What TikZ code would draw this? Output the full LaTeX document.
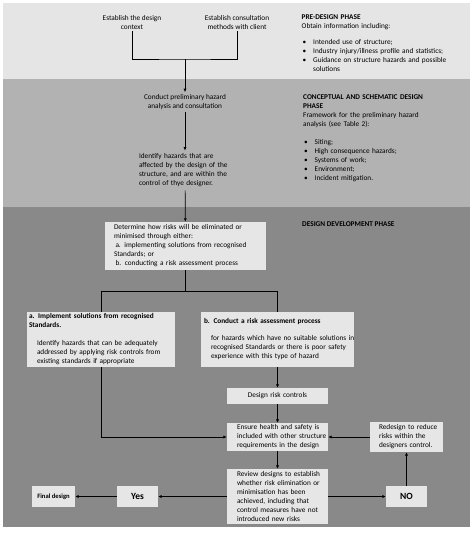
\documentclass[tikz,border=0pt]{standalone}
\usepackage{fontspec}
\setmainfont{Carlito}
\usetikzlibrary{arrows.meta}
\definecolor{bandA}{HTML}{E5E5E5}
\definecolor{bandB}{HTML}{B2B2B2}
\definecolor{bandC}{HTML}{898989}
\definecolor{boxc}{HTML}{E6E6E6}
\newcommand\fs{\fontsize{7.3}{9}\selectfont}
\newcommand\myl[2]{\mbox{\hspace*{#1}#2}}
\newcommand\bul[1]{\makebox[11.5pt][l]{\hspace*{1pt}•}#1}
\begin{document}
\begin{tikzpicture}[x=1pt,y=-1pt,
  txt/.style={font=\fs, inner sep=0pt},
  bx/.style={txt, fill=boxc, align=left},
  arr/.style={line width=0.7pt, -{Latex[length=3.5pt,width=3.2pt]}},
  ln/.style={line width=0.7pt},
]
\useasboundingbox (0,0) rectangle (474,533);
\fill[bandA] (3,3) rectangle (470,79);
\fill[bandB] (3,79) rectangle (470,207);
\fill[bandC] (3,207) rectangle (470,527);

% pre-design band
\node[txt, align=center, inner sep=2pt] (ctx) at (132,22) {Establish the design\\context};
\node[txt, align=center, inner sep=2pt] (cons) at (237,22) {Establish consultation\\methods with client};
\coordinate (j) at (185,59);
\draw[ln] (ctx.south) |- (j) -| (cons.south);

\node[txt, text width=165pt, align=left, anchor=base west] (pre) at (301.5,19.4)
  {\textbf{PRE-DESIGN PHASE}\\
   Obtain information including:\\[7pt]
   \bul{Intended use of structure;}\\
   \bul{Industry injury/illness profile and statistics;}\\
   \bul{Guidance on structure hazards and possible}\\
   \hspace*{11.5pt}solutions};

% conceptual band
\node[txt, align=center, inner sep=2pt] (cond) at (185,102) {Conduct preliminary hazard\\analysis and consultation};
\draw[arr] (j) -- (cond);
\node[txt, text width=92pt, align=left, inner sep=3pt] (ident) at (185,170.5)
  {Identify hazards that are\\
   affected by the design of the\\
   structure, and are within the\\
   control of thye designer.};
\draw[arr] (cond) -- (ident);

\node[txt, text width=160pt, align=left, anchor=base west] (conc) at (303,99.4)
  {\textbf{CONCEPTUAL AND SCHEMATIC DESIGN}\\
   \textbf{PHASE}\\
   Framework for the preliminary hazard\\
   analysis (see Table 2):\\[9pt]
   \bul{Siting;}\\
   \bul{High consequence hazards;}\\
   \bul{Systems of work;}\\
   \bul{Environment;}\\
   \bul{Incident mitigation.}};

% design development band
\node[txt, anchor=base west] (dev) at (302,226.4) {\textbf{DESIGN DEVELOPMENT PHASE}};

\node[bx, text width=161pt, minimum height=48pt] (det) at (185.5,246)
  {\myl{9pt}{Determine how risks will be eliminated or}\\
   \myl{9pt}{minimised through either:}\\
   \myl{10.5pt}{a. implementing solutions from recognised}\\
   \myl{9pt}{Standards; or}\\
   \myl{10.5pt}{b. conducting a risk assessment process}};
\draw[arr] (ident) -- (det);

\coordinate (sp) at (185.5,291);
\coordinate (sa) at (101,291);
\coordinate (sb) at (277.5,291);

\node[bx, text width=148pt, minimum height=55pt] (abox) at (101,339.5)
  {\myl{2pt}{\textbf{a. Implement solutions from recognised}}\\
   \myl{2pt}{\textbf{Standards.}}\\[9pt]
   \myl{10pt}{Identify hazards that can be adequately}\\
   \myl{10pt}{addressed by applying risk controls from}\\
   \myl{10pt}{existing standards if appropriate}};

\node[bx, text width=153pt, minimum height=55pt] (bbox) at (277.5,339.5)
  {\myl{3pt}{\textbf{b. Conduct a risk assessment process}}\\[8pt]
   \myl{10pt}{for hazards which have no suitable solutions in}\\
   \myl{10pt}{recognised Standards or there is poor safety}\\
   \myl{10pt}{experience with this type of hazard}};

\draw[ln] (det) -- (sp);
\draw[ln] (sa) -- (sb);
\draw[ln] (sa) -- (abox);
\draw[ln] (sb) -- (bbox);

\node[bx, align=center, text width=101pt, minimum height=16pt] (drc) at (277.5,396) {Design risk controls};

\node[bx, text width=101pt, minimum height=28pt] (ens) at (277.5,437)
  {\myl{10pt}{Ensure health and safety is}\\
   \myl{10pt}{included with other structure}\\
   \myl{10pt}{requirements in the design}};

\node[bx, text width=101pt, minimum height=55pt] (rev) at (277.5,496.5)
  {\myl{10pt}{Review designs to establish}\\
   \myl{10pt}{whether risk elimination or}\\
   \myl{10pt}{minimisation has been}\\
   \myl{10pt}{achieved, including that}\\
   \myl{10pt}{control measures have not}\\
   \myl{10pt}{introduced new risks}};

\node[bx, text width=73pt, minimum height=30pt] (red) at (406.5,437)
  {\myl{9pt}{Redesign to reduce}\\
   \myl{9pt}{risks within the}\\
   \myl{9pt}{designers control.}};

\node[bx, align=center, font=\fontsize{9.5}{11}\selectfont\bfseries, minimum width=41pt, minimum height=21pt] (yes) at (137.5,496.5) {Yes};
\node[bx, align=center, font=\fontsize{9.5}{11}\selectfont\bfseries, minimum width=41pt, minimum height=21pt] (nobox) at (406.5,496.5) {NO};
\node[bx, align=center, font=\fontsize{6.6}{8}\selectfont\bfseries, minimum width=43pt, minimum height=21pt] (fin) at (53.5,496.5) {Final design};

\draw[arr] (bbox) -- (drc);
\draw[arr] (drc) -- (ens);
\draw[arr] (ens) -- (rev);
\draw[arr] (abox.south) |- (ens.west);
\draw[arr] (rev) -- (yes);
\draw[arr] (yes) -- (fin);
\draw[arr] (rev) -- (nobox);
\draw[arr] (nobox) -- (red);
\draw[arr] (red) -- (ens);
\end{tikzpicture}
\end{document}
